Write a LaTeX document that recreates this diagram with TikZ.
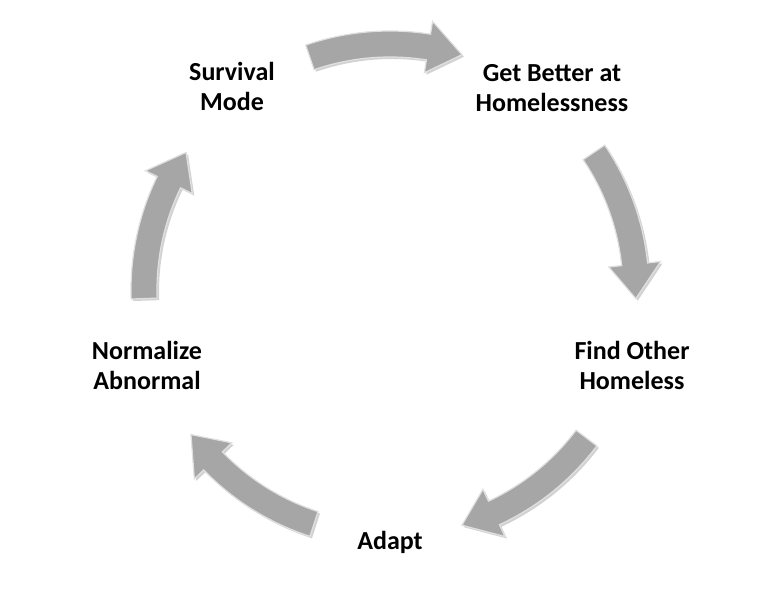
\documentclass[tikz,border=0pt]{standalone}
\usepackage{fontspec}
\setmainfont{Carlito}
\usetikzlibrary{shadows}
\begin{document}
\begin{tikzpicture}[x=1pt,y=1pt,
  lbl/.style={font=\fontsize{26}{30}\selectfont\bfseries,align=center,text=black},
  blk/.style={fill=black!35,draw=black!12,line width=1.2pt,drop shadow={opacity=0.35,shadow xshift=2pt,shadow yshift=-2pt}}]
\useasboundingbox (0,0) rectangle (768,589);
\fill[white] (0,0) rectangle (768,589);
\node[lbl] (s) at (232,503) {Survival\\Mode};
\node[lbl] (g) at (552,501) {Get Better at\\Homelessness};
\node[lbl] (f) at (632,224) {Find Other\\Homeless};
\node[lbl] (a) at (390,47) {Adapt};
\node[lbl] (n) at (147,224) {Normalize\\Abnormal};
\begin{scope}[shift={(390,299)}]
\foreach \c in {91,16,-55,-126,164}{
  \path[blk] (\c+18:233) arc[start angle=\c+18,end angle=\c-10,radius=233]
    -- (\c-10:220) -- (\c-18:246) -- (\c-10:272) -- (\c-10:259)
    arc[start angle=\c-10,end angle=\c+18,radius=259] -- cycle;
}
\end{scope}
\end{tikzpicture}
\end{document}
